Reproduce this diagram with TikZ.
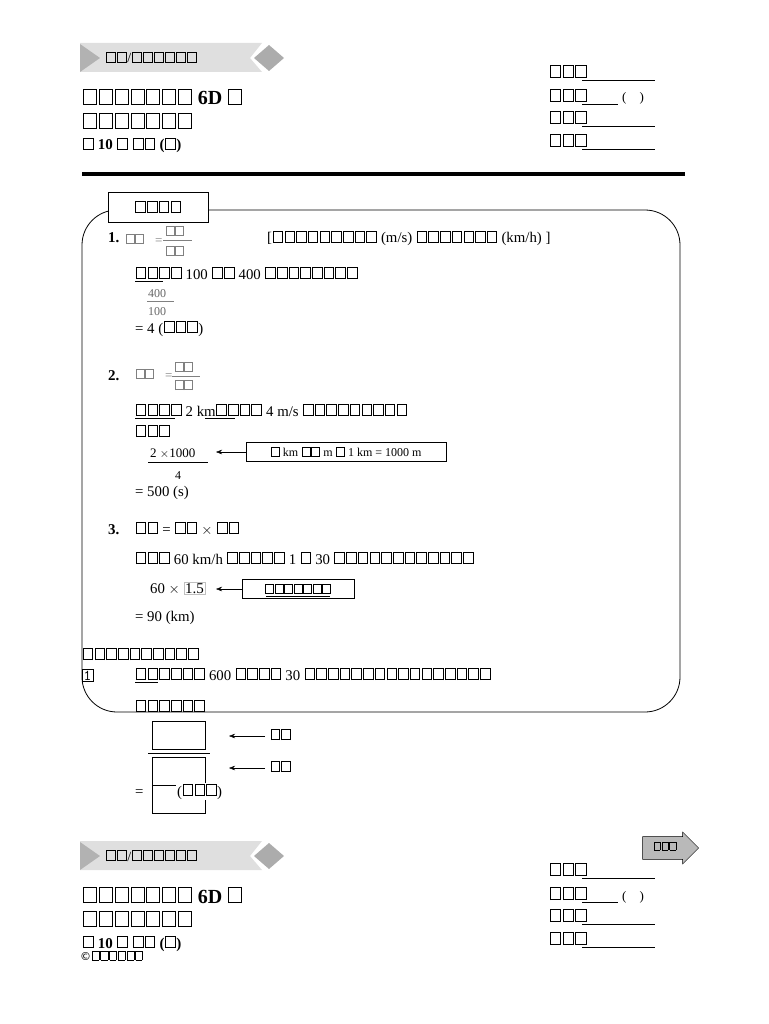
\documentclass[tikz,border=0pt]{standalone}
\usepackage{fontspec}
\setmainfont{Liberation Serif}
\newfontfamily\djfont{DejaVu Sans}
\usetikzlibrary{arrows.meta,shapes.arrows}
\newcommand\tf{\kern0.05em\hbox{\vrule width0.045em\vbox to 0.82em{\hrule height0.045em\vfil\hbox to 0.6em{}\hrule height0.045em}\vrule width0.045em}\kern0.05em}
\newcount\tcnt
\newcommand\T[1]{\tcnt=#1 \loop\tf\advance\tcnt -1 \ifnum\tcnt>0 \repeat}
\tikzset{x=1pt,y=-1pt,
 txt/.style={anchor=base west,inner sep=0pt,font=\fontsize{14.8}{17}\selectfont},
 sm/.style={anchor=base west,inner sep=0pt,font=\fontsize{13}{15}\selectfont},
 ttl/.style={anchor=base west,inner sep=0pt,font=\fontsize{20}{22}\selectfont\bfseries},
 lbl/.style={draw,thick,fill=white,inner sep=2pt,font=\fontsize{13}{15}\selectfont},
 arr/.style={-{Stealth[length=6pt]},thin}}
\newcommand\header[1]{%
 \fill[gray!25] (80,#1-15) -- (262,#1-15) -- (250,#1) -- (262,#1+14) -- (80,#1+14) -- cycle;
 \fill[gray!60] (80,#1-14) -- (100,#1) -- (80,#1+14) -- cycle;
 \fill[gray!65] (269,#1-13) -- (284,#1) -- (269,#1+13) -- (254,#1) -- cycle;
 \node[sm] at (105,#1+5) {\fontsize{14}{16}\selectfont\T2/\T6};
 \node[ttl] at (82,#1+47) {\T7 6D \T1};
 \node[ttl] at (82,#1+71) {\T7};
 \node[sm,font=\fontsize{15}{17}\selectfont\bfseries] at (82,#1+92) {\T1 10 \T1 \T2 (\T1)};
 \foreach \yy/\ex in {20/0,44/1,66/0,89/0}{
   \node[sm,font=\fontsize{16}{18}\selectfont] at (549,#1+\yy) {\T3};
   \ifnum\ex=1 \draw (582,#1+\yy+2)--(618,#1+\yy+2); \node[sm] at (622,#1+\yy) {(\quad)};
   \else \draw (582,#1+\yy+2)--(655,#1+\yy+2); \fi}
}
\begin{document}
\begin{tikzpicture}
\useasboundingbox (0,0) rectangle (768,1024);
\header{58}
\draw[line width=4pt] (82,174) -- (685,174);
\draw[thick,rounded corners=35pt] (82,210) rectangle (680,712);
\node[lbl,minimum width=100pt,minimum height=30pt] (hd) at (158,207) {\fontsize{15}{17}\selectfont\T4};
% item 1
\node[txt,font=\fontsize{15}{17}\selectfont\bfseries] (n1) at (108,243) {1.};
\node[sm,gray] at (125,244) {\fontsize{12}{14}\selectfont\T2};
\node[sm,gray] at (155,244) {=};
\node[sm,gray] at (165,236) {\fontsize{12}{14}\selectfont\T2};
\node[sm,gray] at (165,256) {\fontsize{12}{14}\selectfont\T2};
\draw[gray] (163,240)--(192,240);
\node[txt] at (267,243) {[\T9 (m/s) \T7 (km/h) ]};
\node[txt] at (135,279) {\T4 100 \T2 400 \T8};
\draw (135,281)--(163,281);
\node[sm,gray!80!black] at (148,297) {\fontsize{12}{14}\selectfont 400};
\draw[gray] (147,301)--(174,301);
\node[sm,gray!80!black] at (148,315) {\fontsize{12}{14}\selectfont 100};
\node[txt] at (135,333) {= 4 (\T3)};
% item 2
\node[txt,font=\fontsize{15}{17}\selectfont\bfseries] at (108,380) {2.};
\node[sm,gray] at (135,379) {\fontsize{12}{14}\selectfont\T2};
\node[sm,gray] at (165,379) {=};
\node[sm,gray] at (174,372) {\fontsize{12}{14}\selectfont\T2};
\node[sm,gray] at (174,390) {\fontsize{12}{14}\selectfont\T2};
\draw[gray] (172,376)--(200,376);
\node[txt] at (135,416) {\T4 2 km\T4 4 m/s \T9};
\draw (135,418)--(175,418); \draw (205,418)--(235,418);
\node[txt] at (135,437) {\T3};
\node[sm] (f2) at (150,457) {\fontsize{13}{15}\selectfont 2 \(\times\)1000};
\draw (148,462)--(208,462);
\node[sm] at (175,479) {\fontsize{12}{14}\selectfont 4};
\node[lbl,thin,font=\fontsize{12}{14}\selectfont,minimum width=200pt,minimum height=19pt] (b2) at (346,452) {\T1 km \T2 m \T1 1 km = 1000 m};
\draw[arr] (b2.west) -- (216,452);
\node[txt] at (135,496) {= 500 (s)};
% item 3
\node[txt,font=\fontsize{15}{17}\selectfont\bfseries] at (108,534) {3.};
\node[txt] at (135,534) {\T2 = \T2 \(\times\) \T2};
\node[txt] at (135,564) {\T3 60 km/h \T5 1 \T1 30 \T{12}};
\node[txt] at (150,593) {60 \(\times\)};
\node[draw=gray!50,inner sep=1pt,anchor=base west,font=\fontsize{15}{17}\selectfont] (v15) at (184,593) {1.5};
\node[lbl,thin,font=\fontsize{12}{14}\selectfont,minimum width=112pt,minimum height=19pt] (b3) at (298,589) {\T7};
\draw (266,596)--(330,596);
\draw[arr] (b3.west) -- (216,589);
\node[txt] at (135,621) {= 90 (km)};
% exercise
\node[txt] at (82,660) {\T{10}};
\node[draw,inner sep=1.5pt,anchor=base west,font=\fontsize{15}{16}\ttfamily] at (82,680) {1};
\node[txt] at (135,680) {\T6 600 \T4 30 \T{16}};
\draw (135,682)--(158,682);
\node[txt] at (135,712) {\T6};
\node[draw,thick,minimum width=53pt,minimum height=28pt] (q1) at (179,735) {};
\draw[thick] (148,753)--(210,753);
\node[draw,thick,minimum width=53pt,minimum height=28pt] (q2) at (179,771) {};
\node[draw,thick,minimum width=53pt,minimum height=28pt] (q3) at (179,799) {};
\node[txt] at (135,796) {=};
\node[txt,fill=white,inner sep=1pt] at (176,796) {(\T3)};
\node[sm] (l1) at (270,740) {\T2};
\node[sm] (l2) at (270,772) {\T2};
\draw[arr] (265,736) -- (229,736);
\draw[arr] (265,768) -- (229,768);
% next arrow
\node[single arrow,draw,fill=gray!55,minimum height=56pt,minimum width=32pt,single arrow head extend=3pt,inner sep=1pt,font=\fontsize{10}{11}\selectfont] at (665,848) {\raisebox{4pt}{\T3}\hspace{14pt}};
\header{856}
\node[anchor=base west,inner sep=0pt,font=\fontsize{11}{12}\selectfont] at (80,960) {{\djfont ©}\T6};
\end{tikzpicture}
\end{document}
